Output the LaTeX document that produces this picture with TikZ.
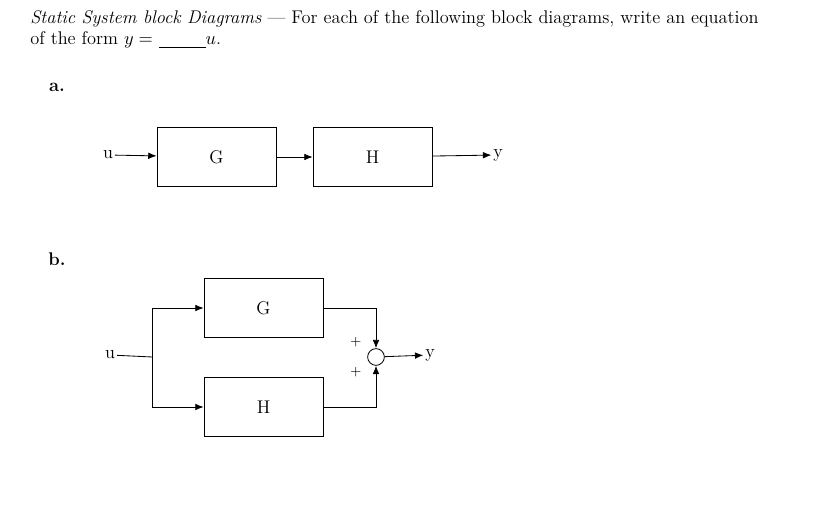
\documentclass[tikz,border=0pt]{standalone}
\usetikzlibrary{arrows.meta}
\begin{document}
\begin{tikzpicture}[x=0.6pt,y=-0.6pt,
  blk/.style={draw,line width=0.5pt,minimum width=71.4pt,minimum height=35.4pt,inner sep=0pt,font=\fontsize{11}{13}\selectfont},
  lab/.style={font=\fontsize{11}{13}\selectfont,inner sep=1pt},
  arr/.style={-{Latex[length=5pt,width=4pt]},line width=0.5pt},
  ln/.style={line width=0.5pt}]
\useasboundingbox (0,0) rectangle (824,517);
\node[anchor=base west,inner sep=0pt,font=\fontsize{11}{13}\selectfont] (h1) at (30,24) {\textit{Static System block Diagrams} --- For each of the following block diagrams, write an equation};
\node[anchor=base west,inner sep=0pt,font=\fontsize{11}{13}\selectfont] (h2) at (30,45) {of the form $y=$ \underline{\hspace{28pt}}$u$.};
\node[lab,font=\fontsize{11}{13}\selectfont\bfseries] (la) at (57,87) {a.};
\node[lab,font=\fontsize{11}{13}\selectfont\bfseries] (lb) at (57,259) {b.};
% a
\node[lab] (ua) at (108,155) {u};
\node[blk] (G1) at (216.5,157) {G};
\node[blk] (H1) at (372.5,157) {H};
\node[lab] (ya) at (498,155) {y};
\draw[arr] (ua) -- (G1);
\draw[arr] (G1) -- (H1);
\draw[arr] (H1) -- (ya);
% b
\node[lab] (ub) at (110,355) {u};
\node[blk] (G2) at (263.5,308) {G};
\node[blk] (H2) at (263.5,407) {H};
\node[draw,circle,line width=0.5pt,minimum size=10pt,inner sep=0pt] (S) at (376,357) {};
\node[lab] (yb) at (430,355) {y};
\coordinate (br) at (152,357);
\draw[ln] (ub) -- (br);
\draw[arr] (br) |- (G2.west);
\draw[arr] (br) |- (H2.west);
\draw[arr] (G2.east) -| (S.north);
\draw[arr] (H2.east) -| (S.south);
\draw[arr] (S) -- (yb);
\node[lab,font=\footnotesize] (p1) at (356,342) {+};
\node[lab,font=\footnotesize] (p2) at (356,372) {+};
\end{tikzpicture}
\end{document}
